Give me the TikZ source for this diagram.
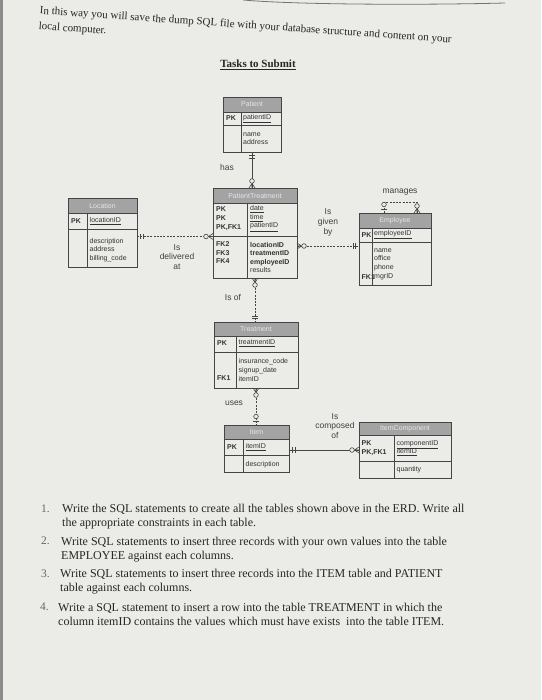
\documentclass[tikz,border=0pt]{standalone}
\usepackage{fontspec}
\setmainfont{Liberation Serif}
\setsansfont{Liberation Sans}

\definecolor{paper}{HTML}{EBEBE8}
\definecolor{erline}{HTML}{454545}
\definecolor{erhead}{HTML}{A3A3A3}
\definecolor{erheadtext}{HTML}{E6E6E6}

\tikzset{
    tbl/.style={draw=erline, line width=0.7pt, inner sep=0pt, outer sep=0pt},
    hdr/.style={fill=erhead},
    sep/.style={draw=erline, line width=0.6pt},
    htext/.style={font=\fontsize{7}{7}\sffamily, text=erheadtext, inner sep=0pt},
    ktext/.style={font=\fontsize{7}{8.7}\sffamily\bfseries, text=black!80, anchor=west, align=left, inner sep=0pt},
    atext/.style={font=\fontsize{7}{8.6}\sffamily, text=black!80, anchor=west, align=left, inner sep=0pt},
    rel/.style={draw=erline, line width=0.6pt, dash pattern=on 2pt off 1.3pt},
    idrel/.style={draw=erline, line width=0.6pt},
    rtext/.style={font=\fontsize{8.5}{9.8}\sffamily, text=black!75, align=center, inner sep=0pt},
    one/.pic={\draw[erline, line width=0.6pt] (3.5,-2.6) -- (3.5,2.6) (6,-2.6) -- (6,2.6);},
    zmany/.pic={\draw[erline, line width=0.6pt] (0,-3) -- (4.5,0) -- (0,3) (0,0) -- (4.5,0);
        \draw[erline, line width=0.6pt, fill=paper] (7,0) circle (2.3pt);},
    zone/.pic={\draw[erline, line width=0.6pt] (4,-2.6) -- (4,2.6);
        \draw[erline, line width=0.6pt, fill=paper] (8.5,0) circle (2.3pt);},
    task/.style={font=\fontsize{12}{14}\selectfont, text=black!85, anchor=north west, align=left, inner sep=0pt},
    num/.style={font=\fontsize{11.5}{14}\selectfont, text=black!60, anchor=north west, inner sep=0pt},
}

\begin{document}
\begin{tikzpicture}[x=1pt, y=-1pt]
    \useasboundingbox (0,0) rectangle (541,700);
    \fill[paper] (0,0) rectangle (541,700);
    \fill[black!45] (0,0) rectangle (2.5,700);
    \draw[black!55, line width=0.8pt] (243,0) .. controls (300,5) and (430,5) .. (505,3);

    % Intro
    \node[font=\fontsize{11}{15.5}\selectfont, text=black!85, align=left, anchor=north west, rotate=-4, inner sep=0pt] (intro) at (40,6)
        {In this way you will save the dump SQL file with your database structure and content on your\\local computer.};
    \node[font=\fontsize{11}{13}\selectfont\bfseries, text=black!85] (tasks) at (258,65) {\underline{Tasks to Submit}};

    % Patient
    \fill[hdr] (223,97) rectangle (281,112);
    \node[tbl, minimum width=58pt, minimum height=55pt] (patient) at (252,124.5) {};
    \draw[sep] (223,112) -- (281,112);
    \draw[sep] (223,125) -- (281,125);
    \draw[sep] (241,112) -- (241,152);
    \node[htext] at (252,104.5) {Patient};
    \node[ktext] at (226,118.5) {PK};
    \node[atext] at (243,118.5) {\underline{patientID}};
    \node[atext, font=\fontsize{7}{7.8}\sffamily] at (243,138.5) {name\\address};

    % PatientTreatment
    \fill[hdr] (213,188) rectangle (297,203);
    \node[tbl, minimum width=84pt, minimum height=90pt] (ptreat) at (255,233) {};
    \draw[sep] (213,203) -- (297,203);
    \draw[sep] (213,236) -- (297,236);
    \draw[sep] (247.5,203) -- (247.5,278);
    \node[htext] at (255,195.5) {PatientTreatment};
    \node[ktext] at (216,218.5) {PK\\PK\\PK,FK1};
    \node[atext] at (250,218.5) {\underline{date}\\\underline{time}\\\underline{patientID}};
    \node[ktext] at (216,252.7) {FK2\\FK3\\FK4};
    \node[atext] at (250,257.5) {\textbf{locationID}\\\textbf{treatmentID}\\\textbf{employeeID}\\results};

    % Location
    \fill[hdr] (68,198) rectangle (137,213);
    \node[tbl, minimum width=69pt, minimum height=69pt] (location) at (102.5,232.5) {};
    \draw[sep] (68,213) -- (137,213);
    \draw[sep] (68,229) -- (137,229);
    \draw[sep] (87,213) -- (87,267);
    \node[htext] at (102.5,205.5) {Location};
    \node[ktext] at (71,221) {PK};
    \node[atext] at (89.5,221) {\underline{locationID}};
    \node[atext] at (89.5,250) {description\\address\\billing\_code};

    % Employee
    \fill[hdr] (359,213) rectangle (431,228);
    \node[tbl, minimum width=72pt, minimum height=72pt] (employee) at (395,249) {};
    \draw[sep] (359,228) -- (431,228);
    \draw[sep] (359,242) -- (431,242);
    \draw[sep] (372,228) -- (372,285);
    \node[htext] at (395,220.5) {Employee};
    \node[ktext] at (361.5,235) {PK};
    \node[atext] at (374,235) {\underline{employeeID}};
    \node[atext] at (374,264) {name\\office\\phone\\mgrID};
    \node[ktext] at (361.5,277) {FK1};

    % Treatment
    \fill[hdr] (214,322) rectangle (298,336);
    \node[tbl, minimum width=84pt, minimum height=66pt] (treatment) at (256,355) {};
    \draw[sep] (214,336) -- (298,336);
    \draw[sep] (214,352) -- (298,352);
    \draw[sep] (236,336) -- (236,388);
    \node[htext] at (256,329) {Treatment};
    \node[ktext] at (217,343.5) {PK};
    \node[atext] at (238.5,343.5) {\underline{treatmentID}};
    \node[atext] at (238.5,370) {insurance\_code\\signup\_date\\itemID};
    \node[ktext] at (217,378.5) {FK1};

    % Item
    \fill[hdr] (224,425) rectangle (289,439);
    \node[tbl, minimum width=65pt, minimum height=47pt] (item) at (256.5,448.5) {};
    \draw[sep] (224,439) -- (289,439);
    \draw[sep] (224,455) -- (289,455);
    \draw[sep] (243,439) -- (243,472);
    \node[htext] at (256.5,432) {Item};
    \node[ktext] at (227,447) {PK};
    \node[atext] at (245.5,447) {\underline{itemID}};
    \node[atext] at (245.5,464.5) {description};

    % ItemComponent
    \fill[hdr] (359,422) rectangle (451,435);
    \node[tbl, minimum width=92pt, minimum height=56pt] (itemcomp) at (405,450) {};
    \draw[sep] (359,435) -- (451,435);
    \draw[sep] (359,461) -- (451,461);
    \draw[sep] (394,435) -- (394,478);
    \node[htext] at (405,428.5) {ItemComponent};
    \node[ktext] at (361.5,448) {PK\\PK,FK1};
    \node[atext] at (396.5,448) {\underline{componentID}\\\underline{itemID}};
    \node[atext] at (396.5,470) {quantity};

    % Relazioni
    \draw[idrel] (patient.south) -- (patient.south |- ptreat.north);
    \pic[rotate=-90] at (patient.south) {one};
    \pic[rotate=90] at (patient.south |- ptreat.north) {zmany};
    \node[rtext] (has) at (227,167) {has};

    \coordinate (locA) at ([yshift=-4pt]location.east);
    \draw[rel] (locA) -- (locA -| ptreat.west);
    \pic at (locA) {one};
    \pic[rotate=180] at (locA -| ptreat.west) {zmany};
    \node[rtext] (delivered) at (177,257) {Is\\delivered\\at};

    \coordinate (empA) at ([yshift=3pt]employee.west);
    \draw[rel] (empA -| ptreat.east) -- (empA);
    \pic at (empA -| ptreat.east) {zmany};
    \pic[rotate=180] at (empA) {one};
    \node[rtext] (given) at (328,222.5) {Is\\given\\by};

    \coordinate (mgL) at ([xshift=-11pt]employee.north);
    \coordinate (mgR) at ([xshift=22pt]employee.north);
    \draw[rel] (mgL) -- ++(0,-11) -| (mgR);
    \pic[rotate=90] at (mgL) {zone};
    \pic[rotate=90] at (mgR) {zmany};
    \node[rtext] (manages) at (400,192) {manages};

    \draw[rel] (ptreat.south) -- (ptreat.south |- treatment.north);
    \pic[rotate=-90] at (ptreat.south) {zmany};
    \pic[rotate=90] at (ptreat.south |- treatment.north) {one};
    \node[rtext] (isof) at (233,297) {Is of};

    \draw[rel] (treatment.south) -- (treatment.south |- item.north);
    \pic[rotate=-90] at (treatment.south) {zmany};
    \pic[rotate=90] at (treatment.south |- item.north) {zone};
    \node[rtext] (uses) at (234,403) {uses};

    \draw[idrel] (item.east |- itemcomp.west) -- (itemcomp.west);
    \pic at (item.east |- itemcomp.west) {one};
    \pic[rotate=180] at (itemcomp.west) {zmany};
    \node[rtext] (composed) at (335,426) {Is\\composed\\of};

    % Tasks
    \node[num] (n1) at (41,504.5) {1.};
    \node[task] (t1) at (62,504) {Write the SQL statements to create all the tables shown above in the ERD. Write all\\the appropriate constraints in each table.};
    \node[num] (n2) at (41,537) {2.};
    \node[task] (t2) at (61,536.5) {Write SQL statements to insert three records with your own values into the table\\EMPLOYEE against each columns.};
    \node[num] (n3) at (41,569.5) {3.};
    \node[task] (t3) at (60,569) {Write SQL statements to insert three records into the ITEM table and PATIENT\\table against each columns.};
    \node[num] (n4) at (40,603) {4.};
    \node[task] (t4) at (58,602.5) {Write a SQL statement to insert a row into the table TREATMENT in which the\\column itemID contains the values which must have exists\ \ into the table ITEM.};
\end{tikzpicture}
\end{document}
